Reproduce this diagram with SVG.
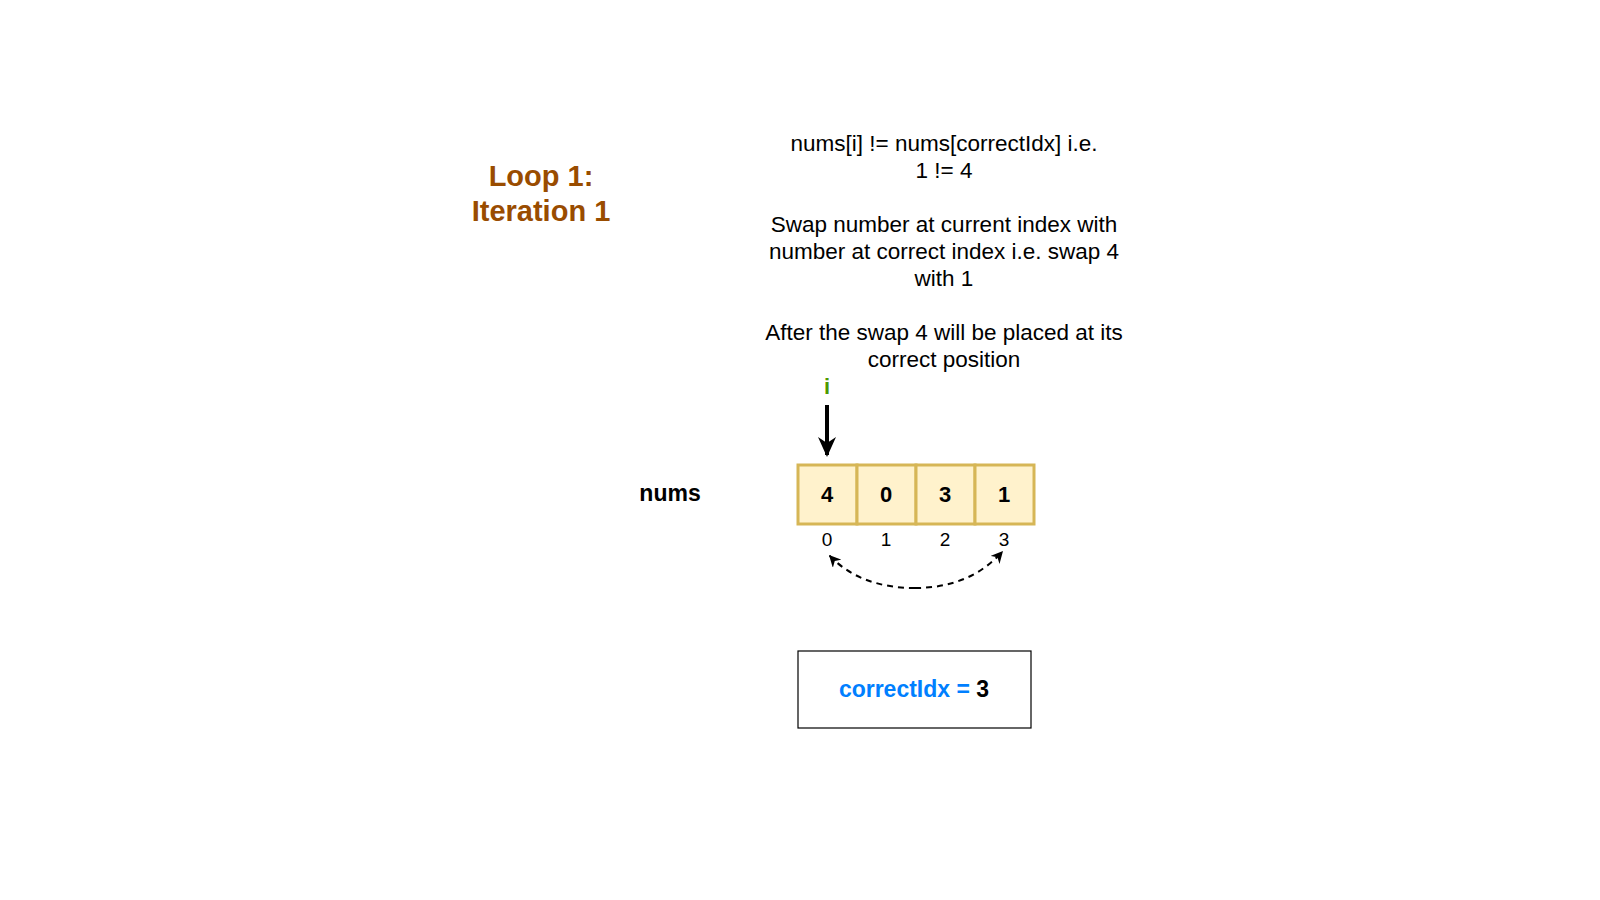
<svg xmlns="http://www.w3.org/2000/svg" width="1600" height="900" viewBox="0 0 1600 900">
<style>
text{font-family:"Liberation Sans",Arial,sans-serif;text-anchor:middle}
.t{font-size:22.5px;fill:#000}
.cell{fill:#fff2cc;stroke:#d6b656;stroke-width:3}
.v{font-size:22px;font-weight:bold}
.idx{font-size:19px}
</style>
<defs>
<marker id="big" markerWidth="20" markerHeight="18" refX="18" refY="9" orient="auto" markerUnits="userSpaceOnUse" viewBox="0 0 20 18"><path d="M0,0 L20,9 L0,18 L6,9 Z" fill="#000"/></marker>
<marker id="sm" markerWidth="12" markerHeight="12" refX="10" refY="5" orient="auto" markerUnits="userSpaceOnUse" viewBox="0 0 10 10"><path d="M0,0 L10,5 L0,10 L3,5 Z" fill="#000"/></marker>
</defs>
<rect width="1600" height="900" fill="#fff"/>
<g id="title"><text x="541" y="186" font-size="29" font-weight="bold" fill="#994c00">Loop 1:</text><text x="541" y="221" font-size="29" font-weight="bold" fill="#994c00">Iteration 1</text></g>
<g id="desc">
<text x="944" y="151" class="t">nums[i] != nums[correctIdx] i.e.</text>
<text x="944" y="178" class="t">1 != 4</text>
<text x="944" y="232" class="t">Swap number at current index with</text>
<text x="944" y="259" class="t">number at correct index i.e. swap 4</text>
<text x="944" y="286" class="t">with 1</text>
<text x="944" y="340" class="t">After the swap 4 will be placed at its</text>
<text x="944" y="367" class="t">correct position</text>
</g>
<g id="i-label"><text x="827" y="394" font-size="22" font-weight="bold" fill="#4d9900">i</text></g>
<g id="nums-label"><text x="670" y="501" font-size="23" font-weight="bold">nums</text></g>
<g id="array">
<rect class="cell" x="798" y="465" width="59" height="59"/>
<rect class="cell" x="857" y="465" width="59" height="59"/>
<rect class="cell" x="916" y="465" width="59" height="59"/>
<rect class="cell" x="975" y="465" width="59" height="59"/>
<text class="v" x="827" y="502">4</text><text class="v" x="886" y="502">0</text><text class="v" x="945" y="502">3</text><text class="v" x="1004" y="502">1</text>
<text class="idx" x="827" y="546">0</text><text class="idx" x="886" y="546">1</text><text class="idx" x="945" y="546">2</text><text class="idx" x="1004" y="546">3</text>
</g>
<g id="box"><rect x="798" y="651" width="233" height="77" fill="#fff" stroke="#000" stroke-width="1.2"/>
<text x="914" y="697" font-size="23" font-weight="bold"><tspan fill="#007fff">correctIdx = </tspan><tspan fill="#000">3</tspan></text></g>
<g id="connectors" fill="none" stroke="#000">
<line x1="827" y1="405" x2="827" y2="455" stroke-width="4" marker-end="url(#big)"/>
<path d="M915,588 Q860,588 829,555" stroke-width="2" stroke-dasharray="6,5" marker-end="url(#sm)"/>
<path d="M915,588 Q970,588 1003,551" stroke-width="2" stroke-dasharray="6,5" marker-end="url(#sm)"/>
</g>
</svg>
